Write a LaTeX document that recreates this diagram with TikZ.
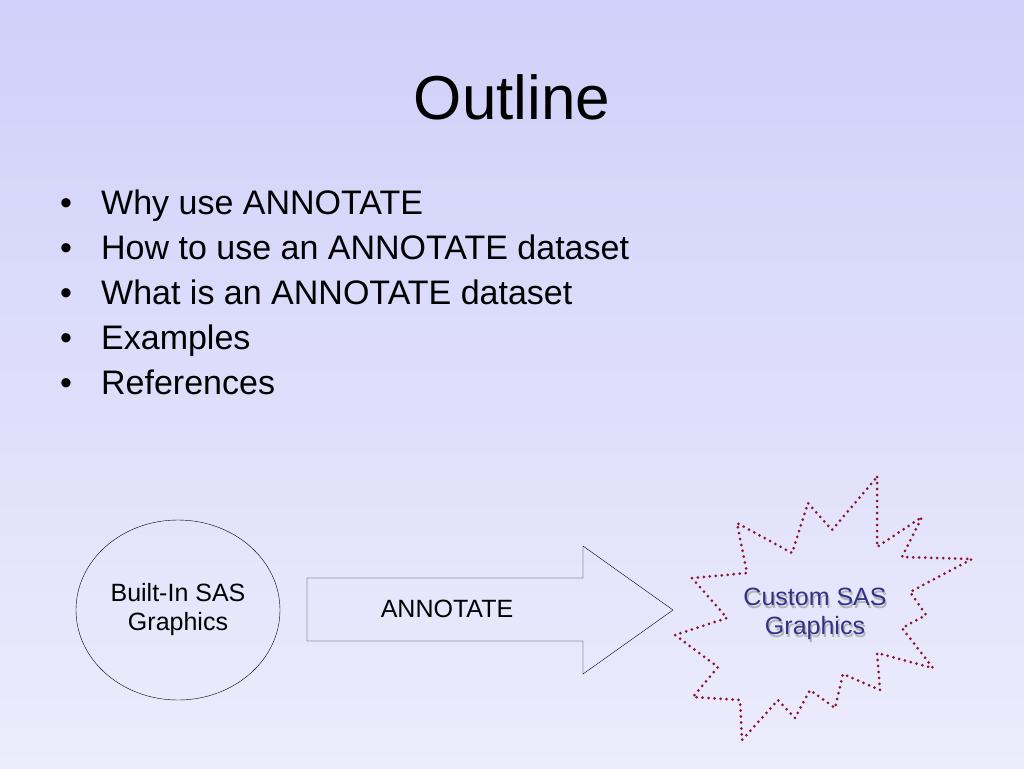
\documentclass[tikz,border=0pt]{standalone}
\usepackage{fontspec}
\setmainfont{Liberation Sans}
\usetikzlibrary{shapes.geometric,positioning}
\definecolor{bgtop}{RGB}{208,208,250}
\definecolor{bgbot}{RGB}{236,236,252}
\definecolor{starred}{RGB}{140,20,50}
\definecolor{navytext}{RGB}{50,50,140}
\begin{document}
\begin{tikzpicture}
			[x=1pt,y=-1pt,
			bullet/.style={anchor=base west,inner sep=0pt,font=\fontsize{34}{40}\selectfont},
			label/.style={font=\fontsize{25}{29}\selectfont,align=center},
			]
			\fill[top color=bgtop,bottom color=bgbot] (0,0) rectangle (1024,768);
			\useasboundingbox (0,0) rectangle (1024,768);
			\node (title) at (512,97) {\fontsize{62}{70}\selectfont Outline};
			\foreach \y/\t [count=\i] in {214/Why use ANNOTATE,259/How to use an ANNOTATE dataset,304/What is an ANNOTATE dataset,349/Examples,394/References}
				{\node[bullet] (b\i) at (60,\y) {\makebox[41pt][l]{\textbullet}\t};}
			\node (builtin) [ellipse,draw,thin,minimum width=204,minimum height=180,label] at (178,610) {Built-In SAS\\Graphics};
			\draw[thin] (307,578) -- (583,578) -- (583,546) -- (673,610) -- (583,674) -- (583,641) -- (307,641) -- cycle;
			\node (annotate) [label] at (447,609) {ANNOTATE};
			\draw[starred,line width=3pt,dash pattern=on 0pt off 6pt,line cap=round]
				(877,477) -- (877,547) -- (922,517) -- (902,557) -- (972,559) -- (910,592) -- (926,615)
				-- (902,628) -- (933,668) -- (877,653) -- (880,690) -- (843,674) -- (835,708) -- (810,690)
				-- (795,718) -- (778,700) -- (742,740) -- (740,700) -- (693,697) -- (718,667) -- (675,635)
				-- (727,618) -- (692,578) -- (747,573) -- (737,523) -- (792,553) -- (808,503) -- (832,530) -- cycle;
			\node (customshadow) [label,text=black!30] at (816.5,616.5) {Custom SAS\\Graphics};
			\node (custom) [label,text=navytext] at (815,614) {Custom SAS\\Graphics};
\end{tikzpicture}
\end{document}
